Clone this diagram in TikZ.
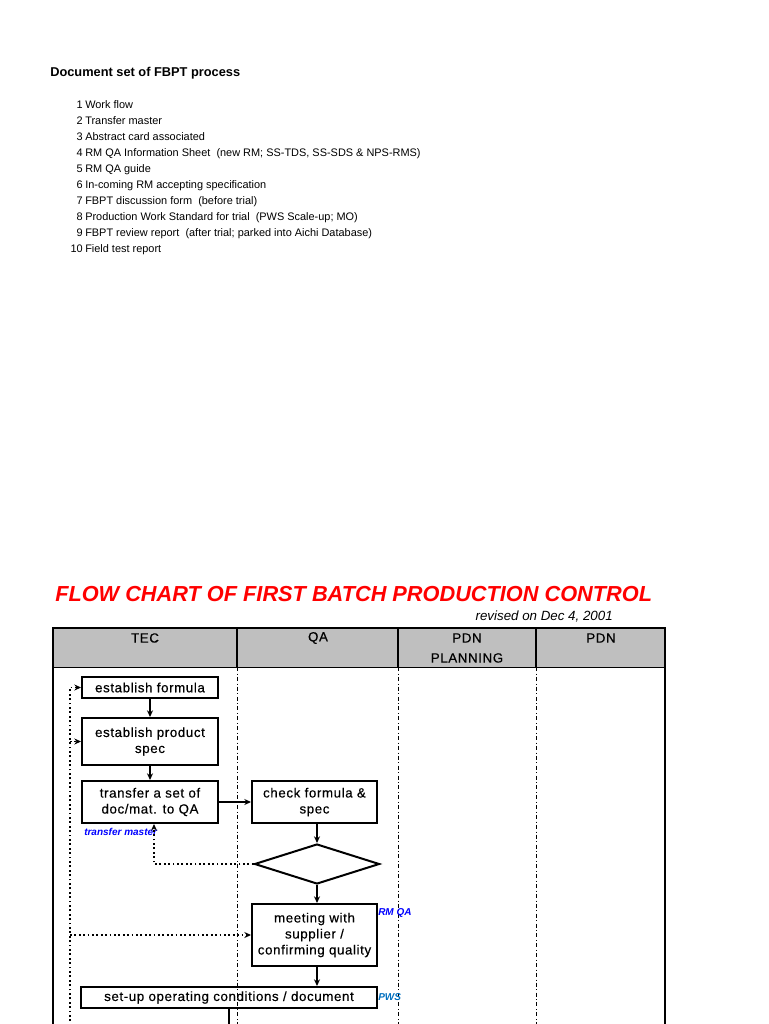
\documentclass[tikz,border=0pt]{standalone}
\usepackage{fontspec}
\setmainfont{Liberation Sans}
\newfontfamily\chartfamily[LetterSpace=4.5,FakeBold=0.4]{Liberation Sans}
\usetikzlibrary{arrows.meta,shapes.geometric,positioning}

\newcommand{\boxfont}{\chartfamily\fontsize{10}{12}\selectfont}
\newcommand{\listfont}{\fontsize{8.2}{9}\selectfont}

\tikzset{
  box/.style={draw,line width=1.5pt,font=\boxfont,align=center,inner sep=0pt},
  flow/.style={->,line width=1.6pt},
  thinflow/.style={->,line width=0.9pt},
  link/.style={->,dotted,line width=1.3pt},
  lane/.style={dash dot,line width=0.6pt},
  head/.style={font=\boxfont,align=center},
  note/.style={font=\bfseries\itshape\fontsize{7.5}{8}\selectfont,text=blue,inner sep=0pt}
}

\begin{document}
\begin{tikzpicture}[x=0.75pt,y=-0.75pt,>={Stealth[length=5pt,width=4.5pt]}]
\useasboundingbox (0,0) rectangle (768,1024);
\fill[white] (0,0) rectangle (768,1024);

% document set
\node[anchor=west,font=\bfseries\fontsize{9.6}{11}\selectfont,inner sep=0pt] (doctitle) at (50,73) {Document set of FBPT process};
\foreach \n/\t [count=\i from 0] in {1/Work flow,2/Transfer master,3/Abstract card associated,
  4/{RM QA Information Sheet~ (new RM; SS-TDS, SS-SDS \& NPS-RMS)},5/RM QA guide,
  6/In-coming RM accepting specification,7/FBPT discussion form~ (before trial),
  8/{Production Work Standard for trial~ (PWS Scale-up; MO)},
  9/{FBPT review report~ (after trial; parked into Aichi Database)},10/Field test report}
{
  \node[anchor=base east,font=\listfont,inner sep=0pt] (num\n) at (83,108.5+16*\i) {\n};
  \node[anchor=base west,font=\listfont,inner sep=0pt] (doc\n) at (85,108.5+16*\i) {\t};
}

% chart title
\node[anchor=west,text=red,font=\bfseries\itshape\fontsize{16.3}{18}\selectfont,inner sep=0pt] (charttitle) at (55,594) {FLOW CHART OF FIRST BATCH PRODUCTION CONTROL};
\node[anchor=east,font=\itshape\fontsize{10}{11}\selectfont,inner sep=0pt] (revised) at (613,617) {revised on Dec 4, 2001};

% table
\fill[black!25] (53,628) rectangle (665,667);
\draw[line width=0.6pt] (53,667) -- (665,667);
\foreach \x in {237,398,536}{
  \draw[line width=0.8pt] (\x,628) -- (\x,667);
  \draw[lane] (\x,667) -- (\x,1030);
}
\draw[line width=2.2pt] (53,1030) -- (53,628) -- (665,628) -- (665,1030);

\node[head] (tec) at (145,638) {TEC};
\node[head] (qa) at (318,638) {QA};
\node[head] (plan) at (467,648) {PDN\\[3pt]PLANNING};
\node[head] (pdn) at (601,638) {PDN};

% steps
\node[box,minimum width=102pt,minimum height=15.75pt] (formula) at (150,687.5) {establish formula};
\node[box,minimum width=102pt,minimum height=35.25pt] (spec) at (150,741.5) {establish product\\spec};
\node[box,minimum width=102pt,minimum height=31.5pt] (xfer) at (150,802) {transfer a set of\\doc/mat. to QA};
\node[box,minimum width=93.75pt,minimum height=31.5pt] (check) at (314.5,802) {check formula \&\\spec};
\node[draw,diamond,line width=1.5pt,minimum width=93.75pt,minimum height=30pt,inner sep=0pt] (decide) at (317,864) {};
\node[box,minimum width=93.75pt,minimum height=46.5pt] (meet) at (314.5,935) {meeting with\\supplier /\\confirming quality};
\node[box,minimum width=222pt,minimum height=15.75pt] (setup) at (229,997.5) {set-up operating conditions / document};

% notes
\node[note,anchor=west] (xfernote) at (84,832) {transfer master};
\node[note,anchor=west] (rmqa) at (378,913) {RM QA};
\node[note,anchor=west,text={rgb,255:red,0;green,112;blue,192}] (pws) at (378,997) {PWS};

% connectors
\draw[flow] (spec.north |- formula.south) -- (spec.north);
\draw[flow] (spec) -- (xfer);
\draw[flow] (xfer) -- (check);
\draw[thinflow] (check.south -| decide.north) -- (decide.north);
\draw[thinflow] (decide.south) -- (decide.south |- meet.north);
\draw[thinflow] (meet.south -| decide.south) -- (decide.south |- setup.north);
\coordinate (cont) at (229,1032);
\draw[flow] (setup) -- (cont);

\coordinate (loopfoot) at (70,1030);
\draw[link] (loopfoot) |- (formula.west);
\draw[link] (loopfoot |- spec.west) -- (spec.west);
\draw[link] (loopfoot |- meet.west) -- (meet.west);
\draw[link] (decide.west) -| ([xshift=3pt]xfer.south);
\end{tikzpicture}
\end{document}
